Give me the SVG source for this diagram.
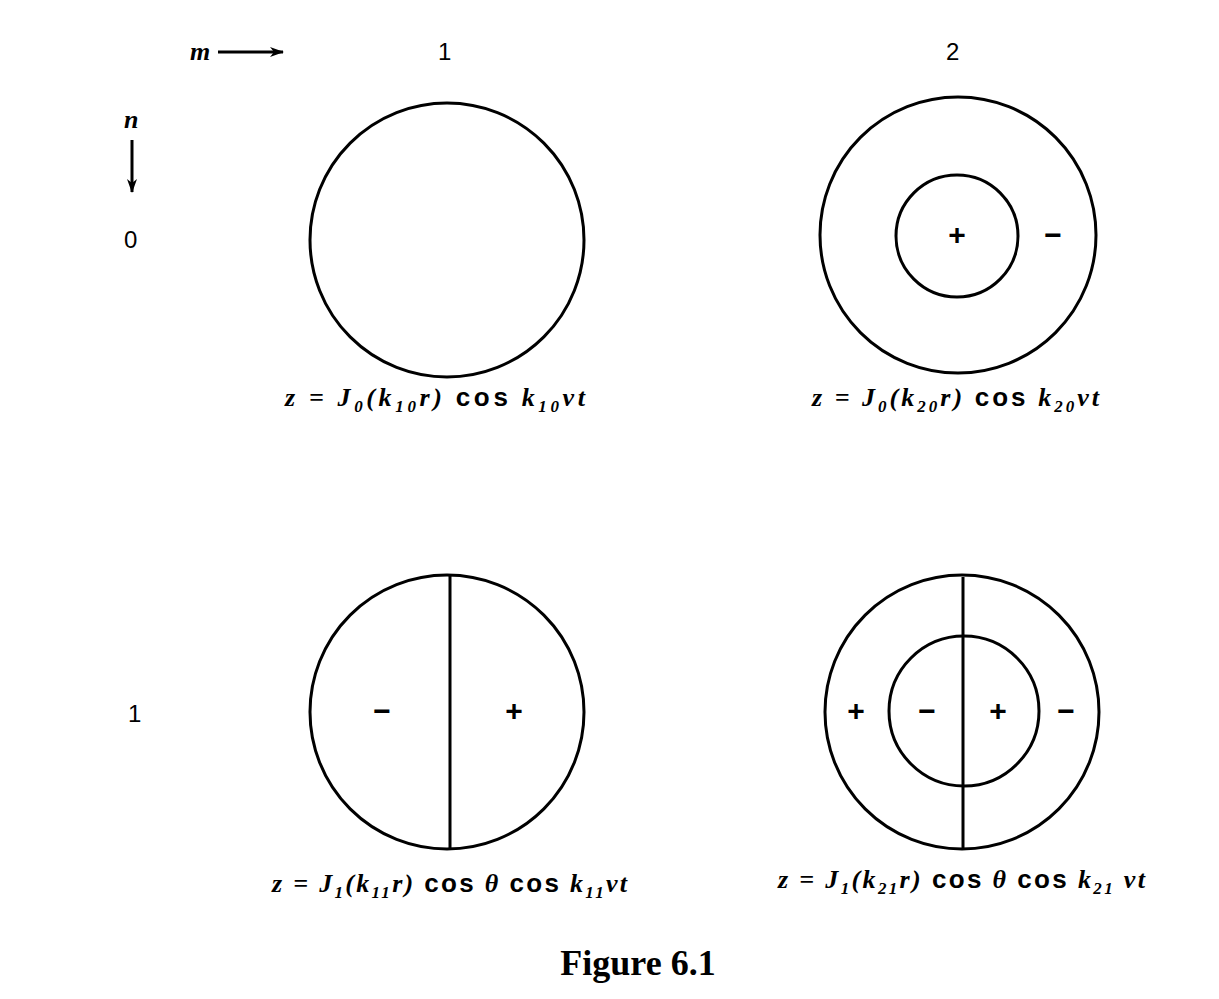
<svg xmlns="http://www.w3.org/2000/svg" width="1219" height="999" viewBox="0 0 1219 999">
<style>
.c{fill:none;stroke:#000;stroke-width:3}
.l{stroke:#000;stroke-width:3}
.t{font-family:"Liberation Sans",Arial,sans-serif;font-size:30px;font-weight:bold}
.n{font-family:"Liberation Sans",Arial,sans-serif;font-size:24px}
.m{font-family:"Liberation Serif","Times New Roman",serif;font-size:26px;font-weight:bold;font-style:italic}
.s{font-size:17px}
.u{font-family:"Liberation Sans",Arial,sans-serif;font-style:normal}
.f{font-family:"Liberation Serif","Times New Roman",serif;font-size:36px;font-weight:bold}
</style>
<defs><marker id="a" markerWidth="14" markerHeight="10" refX="13" refY="5" orient="auto" markerUnits="userSpaceOnUse"><path d="M0,0 L14,5 L0,10 L4,5 Z"/></marker></defs>
<g id="axes">
<text class="m" x="190" y="60">m</text>
<text class="m" x="124" y="128">n</text>
<text class="n" x="438" y="60">1</text>
<text class="n" x="946" y="60">2</text>
<text class="n" x="124" y="248">0</text>
<text class="n" x="128" y="722">1</text>
</g>
<g id="connectors">
<line class="l" x1="218" y1="52" x2="283" y2="52" stroke-width="2" marker-end="url(#a)"/>
<line class="l" x1="132" y1="140" x2="132" y2="192" stroke-width="2" marker-end="url(#a)"/>
</g>
<g id="n10">
<circle class="c" cx="447" cy="240" r="137"/>
<text class="m" x="285" y="406" textLength="300" lengthAdjust="spacing">z = J<tspan class="s" dy="6">0</tspan><tspan dy="-6">(k</tspan><tspan class="s" dy="6">10</tspan><tspan dy="-6">r) </tspan><tspan class="u">cos</tspan> k<tspan class="s" dy="6">10</tspan><tspan dy="-6">vt</tspan></text>
</g>
<g id="n20">
<circle class="c" cx="958" cy="235" r="138"/>
<circle class="c" cx="957" cy="236" r="61"/>
<text class="t" x="957" y="245" text-anchor="middle">+</text>
<text class="t" x="1053" y="245" text-anchor="middle">−</text>
<text class="m" x="812" y="406" textLength="287" lengthAdjust="spacing">z = J<tspan class="s" dy="6">0</tspan><tspan dy="-6">(k</tspan><tspan class="s" dy="6">20</tspan><tspan dy="-6">r) </tspan><tspan class="u">cos</tspan> k<tspan class="s" dy="6">20</tspan><tspan dy="-6">vt</tspan></text>
</g>
<g id="n11">
<circle class="c" cx="447" cy="712" r="137"/>
<line class="l" x1="450" y1="576" x2="450" y2="848"/>
<text class="t" x="382" y="721" text-anchor="middle">−</text>
<text class="t" x="514" y="721" text-anchor="middle">+</text>
<text class="m" x="272" y="892" textLength="355" lengthAdjust="spacing">z = J<tspan class="s" dy="6">1</tspan><tspan dy="-6">(k</tspan><tspan class="s" dy="6">11</tspan><tspan dy="-6">r) </tspan><tspan class="u">cos</tspan> θ <tspan class="u">cos</tspan> k<tspan class="s" dy="6">11</tspan><tspan dy="-6">vt</tspan></text>
</g>
<g id="n21">
<circle class="c" cx="962" cy="712" r="137"/>
<circle class="c" cx="964" cy="711" r="75"/>
<line class="l" x1="963" y1="577" x2="963" y2="848"/>
<text class="t" x="856" y="721" text-anchor="middle">+</text>
<text class="t" x="927" y="721" text-anchor="middle">−</text>
<text class="t" x="998" y="721" text-anchor="middle">+</text>
<text class="t" x="1066" y="721" text-anchor="middle">−</text>
<text class="m" x="778" y="888" textLength="367" lengthAdjust="spacing">z = J<tspan class="s" dy="6">1</tspan><tspan dy="-6">(k</tspan><tspan class="s" dy="6">21</tspan><tspan dy="-6">r) </tspan><tspan class="u">cos</tspan> θ <tspan class="u">cos</tspan> k<tspan class="s" dy="6">21</tspan><tspan dy="-6"> vt</tspan></text>
</g>
<text class="f" x="638" y="975" text-anchor="middle">Figure 6.1</text>
</svg>
